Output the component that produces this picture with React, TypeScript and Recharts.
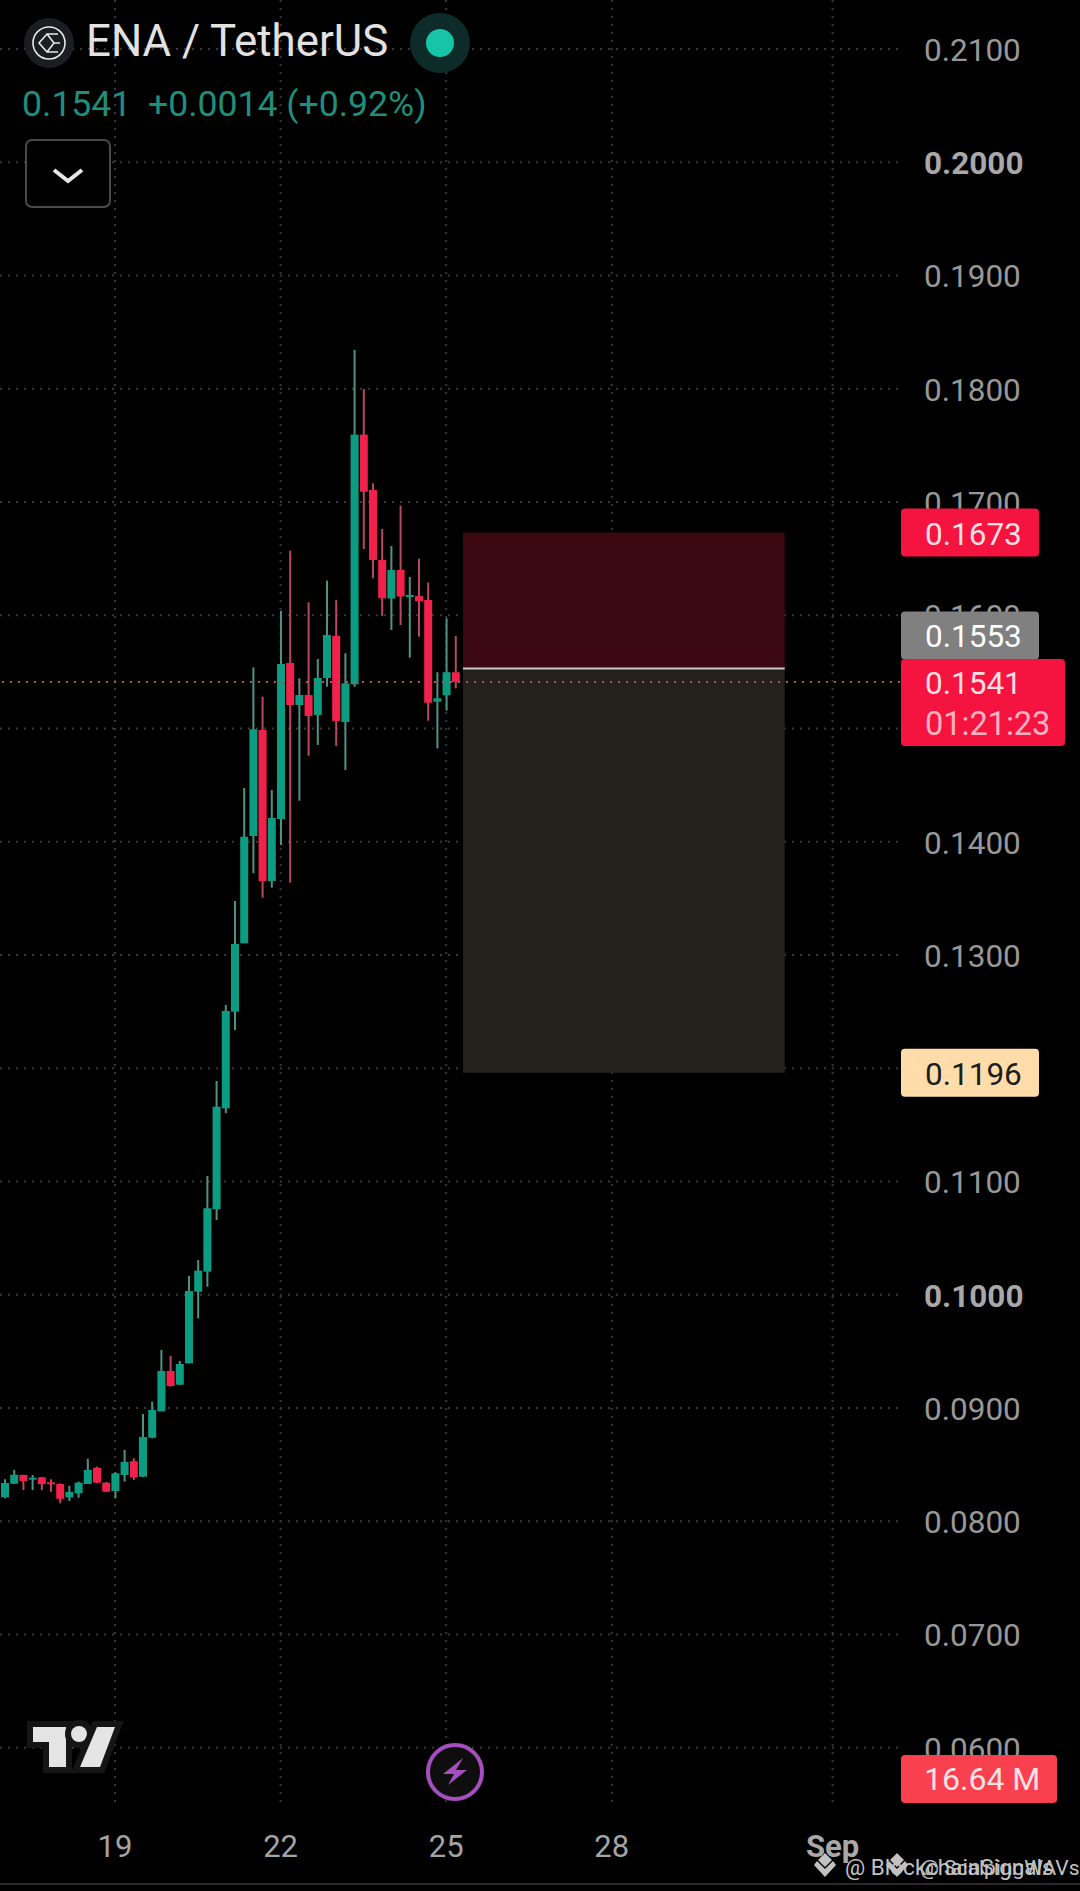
import React from 'react';
import {
  ComposedChart, Bar, XAxis, YAxis, CartesianGrid, ReferenceArea, ReferenceLine,
} from 'recharts';

// 4h candles, slot 0 = Aug 19 00:00
const slots = [-12, -11, -10, -9, -8, -7, -6, -5, -4, -3, -2, -1, 0, 1, 2, 3, 4, 5, 6, 7, 8, 9, 10, 11, 12, 13, 14, 15, 16, 17, 18, 19, 20, 21, 22, 23, 24, 25, 26, 27, 28, 29, 30, 31, 32, 33, 34, 35, 36, 37];
const opens = [0.08211, 0.08331, 0.08408, 0.08372, 0.08387, 0.08343, 0.08328, 0.08211, 0.08246, 0.08328, 0.08472, 0.0834, 0.08266, 0.08408, 0.08529, 0.08393, 0.08737, 0.0897, 0.09326, 0.09205, 0.09394, 0.10026, 0.10203, 0.10754, 0.11646, 0.12499, 0.13103, 0.1405, 0.14986, 0.13653, 0.142, 0.15578, 0.15207, 0.15295, 0.15119, 0.15445, 0.15816, 0.15057, 0.1539, 0.17594, 0.17106, 0.16487, 0.16147, 0.16399, 0.16163, 0.16169, 0.16134, 0.15236, 0.15293, 0.15496];
const highs = [0.0837, 0.08452, 0.0841, 0.08408, 0.0839, 0.0837, 0.08334, 0.08313, 0.08349, 0.08552, 0.08481, 0.08346, 0.08432, 0.08629, 0.08555, 0.08946, 0.09055, 0.09512, 0.09461, 0.09414, 0.10165, 0.10306, 0.11048, 0.11887, 0.12558, 0.13476, 0.14474, 0.15539, 0.1528, 0.14456, 0.16037, 0.1657, 0.15443, 0.16114, 0.15613, 0.16305, 0.16134, 0.15664, 0.18342, 0.17997, 0.17165, 0.16761, 0.16611, 0.16967, 0.16337, 0.16499, 0.16288, 0.15496, 0.15972, 0.15816];
const lows = [0.08202, 0.08328, 0.08275, 0.08275, 0.08275, 0.0826, 0.08158, 0.08178, 0.08207, 0.08328, 0.08334, 0.08258, 0.08202, 0.08349, 0.08364, 0.0839, 0.08732, 0.0897, 0.09187, 0.09202, 0.09394, 0.09791, 0.1007, 0.10659, 0.11602, 0.12337, 0.13103, 0.13721, 0.13505, 0.13594, 0.13971, 0.13638, 0.14362, 0.14759, 0.14854, 0.15369, 0.14845, 0.14633, 0.15369, 0.16585, 0.16326, 0.15993, 0.15869, 0.15913, 0.15625, 0.1581, 0.15068, 0.14824, 0.15157, 0.15354];
const closes = [0.08337, 0.0841, 0.08355, 0.08384, 0.08328, 0.08326, 0.08198, 0.08258, 0.0834, 0.08452, 0.0834, 0.0826, 0.08423, 0.08523, 0.08387, 0.08743, 0.08982, 0.09326, 0.09194, 0.09388, 0.10032, 0.10212, 0.10763, 0.1166, 0.12505, 0.13097, 0.14044, 0.14992, 0.13653, 0.14209, 0.15569, 0.15207, 0.15295, 0.1511, 0.15445, 0.15825, 0.15066, 0.15398, 0.17594, 0.1709, 0.16487, 0.16149, 0.16399, 0.16165, 0.16178, 0.16125, 0.15227, 0.15266, 0.15496, 0.1541];

const priceTicks = [0.06, 0.07, 0.08, 0.09, 0.1, 0.11, 0.12, 0.13, 0.14, 0.15, 0.16, 0.17, 0.18, 0.19, 0.2, 0.21];
const boldPrices = [0.1, 0.2];
const dateTicks = [0, 18, 36, 54, 78];
const dateLabels = ['19', '22', '25', '28', 'Sep'];

const stopPrice = 0.1673;
const entryPrice = 0.1553;
const targetPrice = 0.1196;
const lastPrice = 0.1541;
const toolStart = 37.83;
const toolEnd = 72.8;

const slotDomain = [-12.5, 85.33];
const priceDomain = [0.05485, 0.21432];

const UP = '#0b9c82';
const DOWN = '#f2214b';
const UP_WICK = '#4f9284';
const DOWN_WICK = '#b8475f';
const FONT = 'Roboto, sans-serif';

const candles = slots.map((slot, i) => ({
  slot,
  open: opens[i],
  close: closes[i],
  high: highs[i],
  low: lows[i],
  range: [lows[i], highs[i]],
}));

const Candle = (props: any) => {
  const { x, y, width, height, payload } = props;
  const up = payload.close >= payload.open;
  const perPrice = height / (payload.high - payload.low);
  const top = y + (payload.high - Math.max(payload.open, payload.close)) * perPrice;
  const bodyH = Math.max(Math.abs(payload.close - payload.open) * perPrice, 2);
  const mid = x + width / 2;
  return (
    <g>
      <rect x={mid - 1} y={y} width={2} height={height} fill={up ? UP_WICK : DOWN_WICK} />
      <rect x={x} y={top} width={width} height={bodyH} fill={up ? UP : DOWN} />
    </g>
  );
};

const PriceTick = ({ x, y, payload }: any) => (
  <text
    x={x + 16}
    y={y}
    dy={12}
    fontFamily={FONT}
    fontSize={31.5}
    fontWeight={boldPrices.includes(payload.value) ? 700 : 400}
    fill={boldPrices.includes(payload.value) ? '#a8a8a8' : '#989898'}
  >
    {payload.value.toFixed(4)}
  </text>
);

const DateTick = ({ x, y, payload }: any) => {
  const label = dateLabels[dateTicks.indexOf(payload.value)];
  return (
    <text
      x={x}
      y={y}
      dy={43}
      textAnchor="middle"
      fontFamily={FONT}
      fontSize={31}
      fontWeight={label === 'Sep' ? 700 : 400}
      fill={label === 'Sep' ? '#a8a8a8' : '#a4a4a4'}
    >
      {label}
    </text>
  );
};

const Badge = ({ viewBox, text, fill, color, shift = 0 }: any) => {
  const left = viewBox.x + viewBox.width + 1;
  const cy = viewBox.y + shift;
  return (
    <g>
      <rect x={left} y={cy - 24} width={138} height={48} rx={4} fill={fill} />
      <text x={left + 24} y={cy + 12} fontFamily={FONT} fontSize={31.5} fill={color}>{text}</text>
    </g>
  );
};

const LastBadge = ({ viewBox }: any) => {
  const left = viewBox.x + viewBox.width + 1;
  const cy = viewBox.y;
  return (
    <g>
      <rect x={left} y={cy - 23} width={164} height={87} rx={4} fill="#f5143f" />
      <text x={left + 24} y={cy + 12} fontFamily={FONT} fontSize={31.5} fill="#ffdfe4">0.1541</text>
      <text x={left + 24} y={cy + 53} fontFamily={FONT} fontSize={32.5} fill="#ffb3c1">01:21:23</text>
    </g>
  );
};

const Header = () => (
  <svg width={1080} height={1891} style={{ position: 'absolute', left: 0, top: 0 }}>
    {/* symbol icon */}
    <circle cx={49} cy={43} r={25} fill="#1b1d22" />
    <circle cx={49} cy={43} r={16} fill="none" stroke="#e8e8e8" strokeWidth={1.6} />
    <path d="M58 34 H47 L39 43 L47 52 H58 M47 34 L54 43 L47 52 M54 43 H60" fill="none" stroke="#e8e8e8" strokeWidth={1.6} />
    <text x={86} y={56} fontFamily={FONT} fontSize={43.8} fill="#e2e2e2">ENA / TetherUS</text>
    <circle cx={440} cy={43} r={30} fill="#0c2b29" />
    <circle cx={440} cy={43} r={14} fill="#18c4a6" />
    <text x={22} y={116} fontFamily={FONT} fontSize={35.6} fill="#1f8f7b">0.1541</text>
    <text x={148} y={116} fontFamily={FONT} fontSize={35.6} fill="#1f8f7b">+0.0014 (+0.92%)</text>
    <rect x={26} y={140} width={84} height={67} rx={6} fill="#000" stroke="#4a4a4a" strokeWidth={2} />
    <path d="M54 170 L68 181 L82 170" fill="none" stroke="#e6e6e6" strokeWidth={4} />

    {/* tradingview logo */}
    <g fill="#e4e4e4" stroke="#151515" strokeWidth={12} paintOrder="stroke">
      <path d="M33 1727 H66 V1767 H49 V1742 H33 Z" />
      <circle cx={79} cy={1734} r={8} />
      <path d="M97 1727 H115 L100 1767 H80 Z" />
    </g>

    {/* flash icon */}
    <circle cx={455} cy={1772} r={27} fill="#0e0e0e" stroke="#a44fbd" strokeWidth={4} />
    <path d="M463 1758 L443 1774 H454 L448 1785 L467 1770 H456 Z" fill="#a44fbd" />

    {/* volume label */}
    <rect x={901} y={1755} width={156} height={48} rx={4} fill="#f8404f" />
    <text x={924} y={1790} fontFamily={FONT} fontSize={32} fill="#ffe2e5">16.64 M</text>

    {/* watermark */}
    <g fill="#c2c2c2">
      <path d="M825 1853 L832 1860 L825 1867 L818 1860 Z M825 1869 L833 1861 L836 1865 L825 1877 L814 1865 L817 1861 Z" />
      <path d="M897 1853 L904 1860 L897 1867 L890 1860 Z M897 1869 L905 1861 L908 1865 L897 1877 L886 1865 L889 1861 Z" />
      <text x={845} y={1875} fontFamily={FONT} fontSize={22.5}>@ BlockchainSignals</text>
      <text x={920} y={1875} fontFamily={FONT} fontSize={21}>@ ScalpingWAVs</text>
    </g>
    <rect x={0} y={1883} width={1080} height={2} fill="#2b2b2b" />
  </svg>
);

export default function App() {
  return (
    <div style={{ position: 'absolute', left: 0, top: 0, width: 1080, height: 1891, background: '#000', overflow: 'hidden' }}>
      <ComposedChart
        width={1080}
        height={1891}
        data={candles}
        margin={{ top: 0, right: 0, bottom: 0, left: 0 }}
      >
        <CartesianGrid
          stroke="#383838"
          strokeWidth={2}
          strokeDasharray="2 6"
          horizontalValues={priceTicks}
          verticalValues={dateTicks}
        />
        <XAxis
          dataKey="slot"
          type="number"
          domain={slotDomain}
          ticks={dateTicks}
          allowDataOverflow
          height={85}
          axisLine={false}
          tickLine={false}
          interval={0}
          tick={<DateTick />}
        />
        <YAxis
          orientation="right"
          domain={priceDomain}
          ticks={priceTicks}
          allowDataOverflow
          width={180}
          axisLine={false}
          tickLine={false}
          interval={0}
          tick={<PriceTick />}
        />
        <ReferenceArea x1={toolStart} x2={toolEnd} y1={entryPrice} y2={stopPrice} fill="#3b0812" fillOpacity={1} />
        <ReferenceArea x1={toolStart} x2={toolEnd} y1={targetPrice} y2={entryPrice} fill="#25211b" fillOpacity={0.96} />
        <ReferenceLine y={lastPrice} stroke="#b4505a" strokeDasharray="2 6" strokeWidth={2} />
        <ReferenceLine segment={[{ x: toolStart, y: entryPrice }, { x: toolEnd, y: entryPrice }]} stroke="#c9c9d0" strokeWidth={2} />
        <Bar dataKey="range" barSize={8} isAnimationActive={false} shape={<Candle />} />
      </ComposedChart>

      {/* price badges sit above the axis labels, same scales as the chart below */}
      <div style={{ position: 'absolute', left: 0, top: 0 }}>
        <ComposedChart
          width={1080}
          height={1891}
          data={candles}
          margin={{ top: 0, right: 180, bottom: 85, left: 0 }}
        >
          <XAxis dataKey="slot" type="number" domain={slotDomain} allowDataOverflow hide />
          <YAxis domain={priceDomain} allowDataOverflow hide />
          <ReferenceLine y={stopPrice} stroke="none" label={<Badge text="0.1673" fill="#f5143f" color="#ffdfe4" />} />
          <ReferenceLine y={entryPrice} stroke="none" label={<Badge text="0.1553" fill="#808080" color="#ffffff" shift={-33} />} />
          <ReferenceLine y={lastPrice} stroke="none" label={<LastBadge />} />
          <ReferenceLine y={targetPrice} stroke="none" label={<Badge text="0.1196" fill="#ffdcaa" color="#1c1c1c" />} />
        </ComposedChart>
      </div>
      <Header />
    </div>
  );
}
